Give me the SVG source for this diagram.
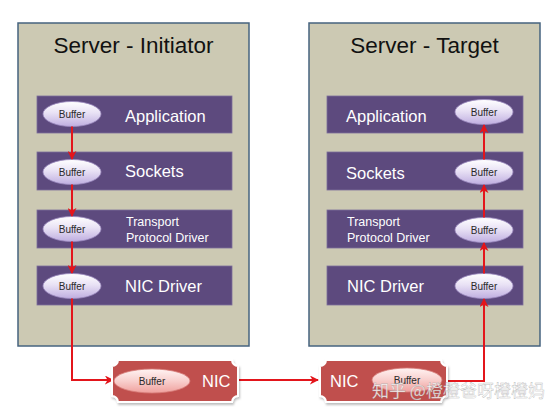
<svg xmlns="http://www.w3.org/2000/svg" width="554" height="415" viewBox="0 0 554 415">
<defs>
<linearGradient id="gBuf" x1="0" y1="0" x2="0" y2="1">
<stop offset="0" stop-color="#ffffff"/>
<stop offset="0.45" stop-color="#e9e2f5"/>
<stop offset="1" stop-color="#bfaee0"/>
</linearGradient>
<linearGradient id="gNicBuf" x1="0" y1="0" x2="0" y2="1">
<stop offset="0" stop-color="#fff3f2"/>
<stop offset="0.5" stop-color="#f8cfcd"/>
<stop offset="1" stop-color="#f0a09d"/>
</linearGradient>
<marker id="arr" viewBox="0 0 10 10" refX="9" refY="5" markerWidth="4.5" markerHeight="4.5" orient="auto-start-reverse" markerUnits="strokeWidth">
<path d="M0,0 L10,5 L0,10 L3,5 Z" fill="#e3151b"/>
</marker>
<filter id="sh" x="-10%" y="-10%" width="120%" height="130%">
<feDropShadow dx="1" dy="2" stdDeviation="1.2" flood-color="#000" flood-opacity="0.25"/>
</filter>
</defs>
<style>
.server{fill:#ccc9b3;stroke:#46637f;stroke-width:1.5}
.bar{fill:#5d4a7e;stroke:#7d6e9c;stroke-width:0.8}
.buf{fill:url(#gBuf);stroke:#9d8cc0;stroke-width:0.8}
.nic{fill:#c0504d;stroke:#ffffff;stroke-width:2;filter:url(#sh)}
.nicbuf{fill:url(#gNicBuf);stroke:#d77d7a;stroke-width:0.8}
.title{font-family:"Liberation Sans",Arial,sans-serif;font-size:22.5px;fill:#111;text-anchor:middle}
.lbl{font-family:"Liberation Sans",Arial,sans-serif;font-size:16.5px;fill:#ffffff}
.lbl2{font-family:"Liberation Sans",Arial,sans-serif;font-size:12.5px;fill:#ffffff}
.bt{font-family:"Liberation Sans",Arial,sans-serif;font-size:10px;fill:#2a2a2a;text-anchor:middle}
.nict{font-family:"Liberation Sans",Arial,sans-serif;font-size:16.5px;fill:#ffffff}
.wire{fill:none;stroke:#e3151b;stroke-width:2}
.wm{font-family:"Noto Sans CJK SC",sans-serif;font-size:17px;fill:#ffffff;fill-opacity:0.85;stroke:#8a8a8a;stroke-width:0.4;stroke-opacity:0.6}
</style>
<rect width="554" height="415" fill="#ffffff"/>

<g id="server-initiator">
<rect class="server" x="18" y="23" width="231" height="323"/>
<text class="title" x="133.5" y="53">Server - Initiator</text>
</g>
<g id="server-target">
<rect class="server" x="309" y="23" width="231" height="323"/>
<text class="title" x="424.5" y="53">Server - Target</text>
</g>

<g id="init-application">
<rect class="bar" x="37" y="96" width="195" height="37"/>
<ellipse class="buf" cx="72" cy="114" rx="29" ry="12.5"/>
<text class="bt" x="72" y="117.5">Buffer</text>
<text class="lbl" x="125" y="122">Application</text>
</g>
<g id="init-sockets">
<rect class="bar" x="37" y="152" width="195" height="38"/>
<ellipse class="buf" cx="72" cy="172" rx="29" ry="12.5"/>
<text class="bt" x="72" y="175.5">Buffer</text>
<text class="lbl" x="125" y="177">Sockets</text>
</g>
<g id="init-transport">
<rect class="bar" x="37" y="210" width="195" height="38"/>
<ellipse class="buf" cx="72" cy="229" rx="29" ry="12.5"/>
<text class="bt" x="72" y="232.5">Buffer</text>
<text class="lbl2" x="126" y="226">Transport</text>
<text class="lbl2" x="126" y="242">Protocol Driver</text>
</g>
<g id="init-nicdriver">
<rect class="bar" x="37" y="266" width="195" height="39"/>
<ellipse class="buf" cx="72" cy="286" rx="29" ry="12.5"/>
<text class="bt" x="72" y="289.5">Buffer</text>
<text class="lbl" x="125" y="292">NIC Driver</text>
</g>

<g id="target-application">
<rect class="bar" x="327" y="96" width="196" height="37"/>
<ellipse class="buf" cx="484" cy="112" rx="29" ry="12.5"/>
<text class="bt" x="484" y="115.5">Buffer</text>
<text class="lbl" x="346" y="122">Application</text>
</g>
<g id="target-sockets">
<rect class="bar" x="327" y="152" width="196" height="38"/>
<ellipse class="buf" cx="484" cy="172" rx="29" ry="12.5"/>
<text class="bt" x="484" y="175.5">Buffer</text>
<text class="lbl" x="346" y="179">Sockets</text>
</g>
<g id="target-transport">
<rect class="bar" x="327" y="210" width="196" height="38"/>
<ellipse class="buf" cx="484" cy="230" rx="29" ry="12.5"/>
<text class="bt" x="484" y="233.5">Buffer</text>
<text class="lbl2" x="347" y="226">Transport</text>
<text class="lbl2" x="347" y="242">Protocol Driver</text>
</g>
<g id="target-nicdriver">
<rect class="bar" x="327" y="266" width="196" height="39"/>
<ellipse class="buf" cx="484" cy="286" rx="29" ry="12.5"/>
<text class="bt" x="484" y="289.5">Buffer</text>
<text class="lbl" x="347" y="292">NIC Driver</text>
</g>

<g id="connectors">
<path class="wire" d="M72,126.5 V159" marker-end="url(#arr)"/>
<path class="wire" d="M72,184.5 V216" marker-end="url(#arr)"/>
<path class="wire" d="M72,241.5 V273" marker-end="url(#arr)"/>
<path class="wire" d="M72,298.5 V380 H113" marker-end="url(#arr)"/>
<path class="wire" d="M239,380 H318" marker-end="url(#arr)"/>
<path class="wire" d="M446,381 H484 V299" marker-end="url(#arr)"/>
<path class="wire" d="M484,273.5 V243" marker-end="url(#arr)"/>
<path class="wire" d="M484,217.5 V185" marker-end="url(#arr)"/>
<path class="wire" d="M484,159.5 V125" marker-end="url(#arr)"/>
</g>

<g id="nic-initiator">
<path class="nic" d="M118,360 H232 A6,6 0 0 0 238,366 V396 A6,6 0 0 0 232,402 H118 A6,6 0 0 0 112,396 V366 A6,6 0 0 0 118,360 Z"/>
<ellipse class="nicbuf" cx="152" cy="381" rx="38" ry="12"/>
<text class="bt" x="152" y="384.5">Buffer</text>
<text class="nict" x="202" y="387">NIC</text>
</g>
<g id="nic-target">
<path class="nic" d="M326,360 H441 A6,6 0 0 0 447,366 V396 A6,6 0 0 0 441,402 H326 A6,6 0 0 0 320,396 V366 A6,6 0 0 0 326,360 Z"/>
<ellipse class="nicbuf" cx="407" cy="380" rx="35" ry="12"/>
<text class="bt" x="407" y="383.5">Buffer</text>
<text class="nict" x="330" y="387">NIC</text>
</g>

<text class="wm" x="372" y="397">知乎 @橙橙爸呀橙橙妈</text>
</svg>
